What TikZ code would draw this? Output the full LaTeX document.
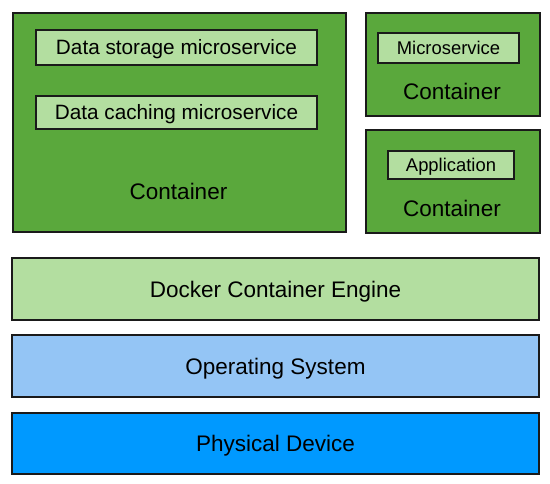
\documentclass[tikz,border=0pt]{standalone}
\usepackage{fontspec}
\setmainfont{Liberation Sans}
\definecolor{dkgreen}{HTML}{5AA83C}
\definecolor{ltgreen}{HTML}{B3DEA0}
\definecolor{ltblue}{HTML}{94C5F5}
\definecolor{brblue}{HTML}{0099FF}
\definecolor{edge}{HTML}{1A1A1A}
\begin{document}
\begin{tikzpicture}[x=1pt,y=-1pt,
  outerbox/.style={draw=edge,line width=1.8pt,rectangle,inner sep=0pt,anchor=north west},
  innerbox/.style={draw=edge,line width=1.6pt,fill=ltgreen,rectangle,inner sep=0pt,anchor=center,
     font=\fontsize{20.75}{24}\selectfont,text height=14.9pt,text depth=0pt},
  smallbox/.style={innerbox,font=\fontsize{18.4}{22}\selectfont,text height=13.2pt},
  bandbox/.style={draw=edge,line width=1.8pt,rectangle,inner sep=0pt,anchor=center,
     minimum width=527pt,minimum height=62pt,
     font=\fontsize{22.5}{27}\selectfont,text height=16.1pt,text depth=0pt},
  label/.style={anchor=base,inner sep=0pt,font=\fontsize{22.5}{27}\selectfont}]
\useasboundingbox (0,0) rectangle (550,484);
\fill[white] (0,0) rectangle (550,484);
% big container
\node[outerbox,fill=dkgreen,minimum width=333pt,minimum height=219pt] (big) at (12,12) {};
\node[innerbox,minimum width=281pt,minimum height=35pt] (store) at (176.5,47.5) {Data storage microservice};
\node[innerbox,minimum width=281pt,minimum height=33pt] (cache) at (176.5,112.5) {Data caching microservice};
\node[label] (bigl) at (178.5,200) {Container};
% right top container
\node[outerbox,fill=dkgreen,minimum width=174pt,minimum height=103pt] (rt) at (365,12) {};
\node[smallbox,minimum width=141pt,minimum height=30pt] (micro) at (448.5,48) {Microservice};
\node[label] (rtl) at (452,100) {Container};
% right bottom container
\node[outerbox,fill=dkgreen,minimum width=174pt,minimum height=103pt] (rb) at (365,129) {};
\node[smallbox,minimum width=126pt,minimum height=28pt] (app) at (451,165) {Application};
\node[label] (rbl) at (452,216.7) {Container};
% layers
\node[bandbox,fill=ltgreen] (docker) at (275.5,289) {Docker Container Engine};
\node[bandbox,fill=ltblue] (os) at (275.5,366) {Operating System};
\node[bandbox,fill=brblue,minimum height=61pt] (phys) at (275.5,443.5) {Physical Device};
\end{tikzpicture}
\end{document}
